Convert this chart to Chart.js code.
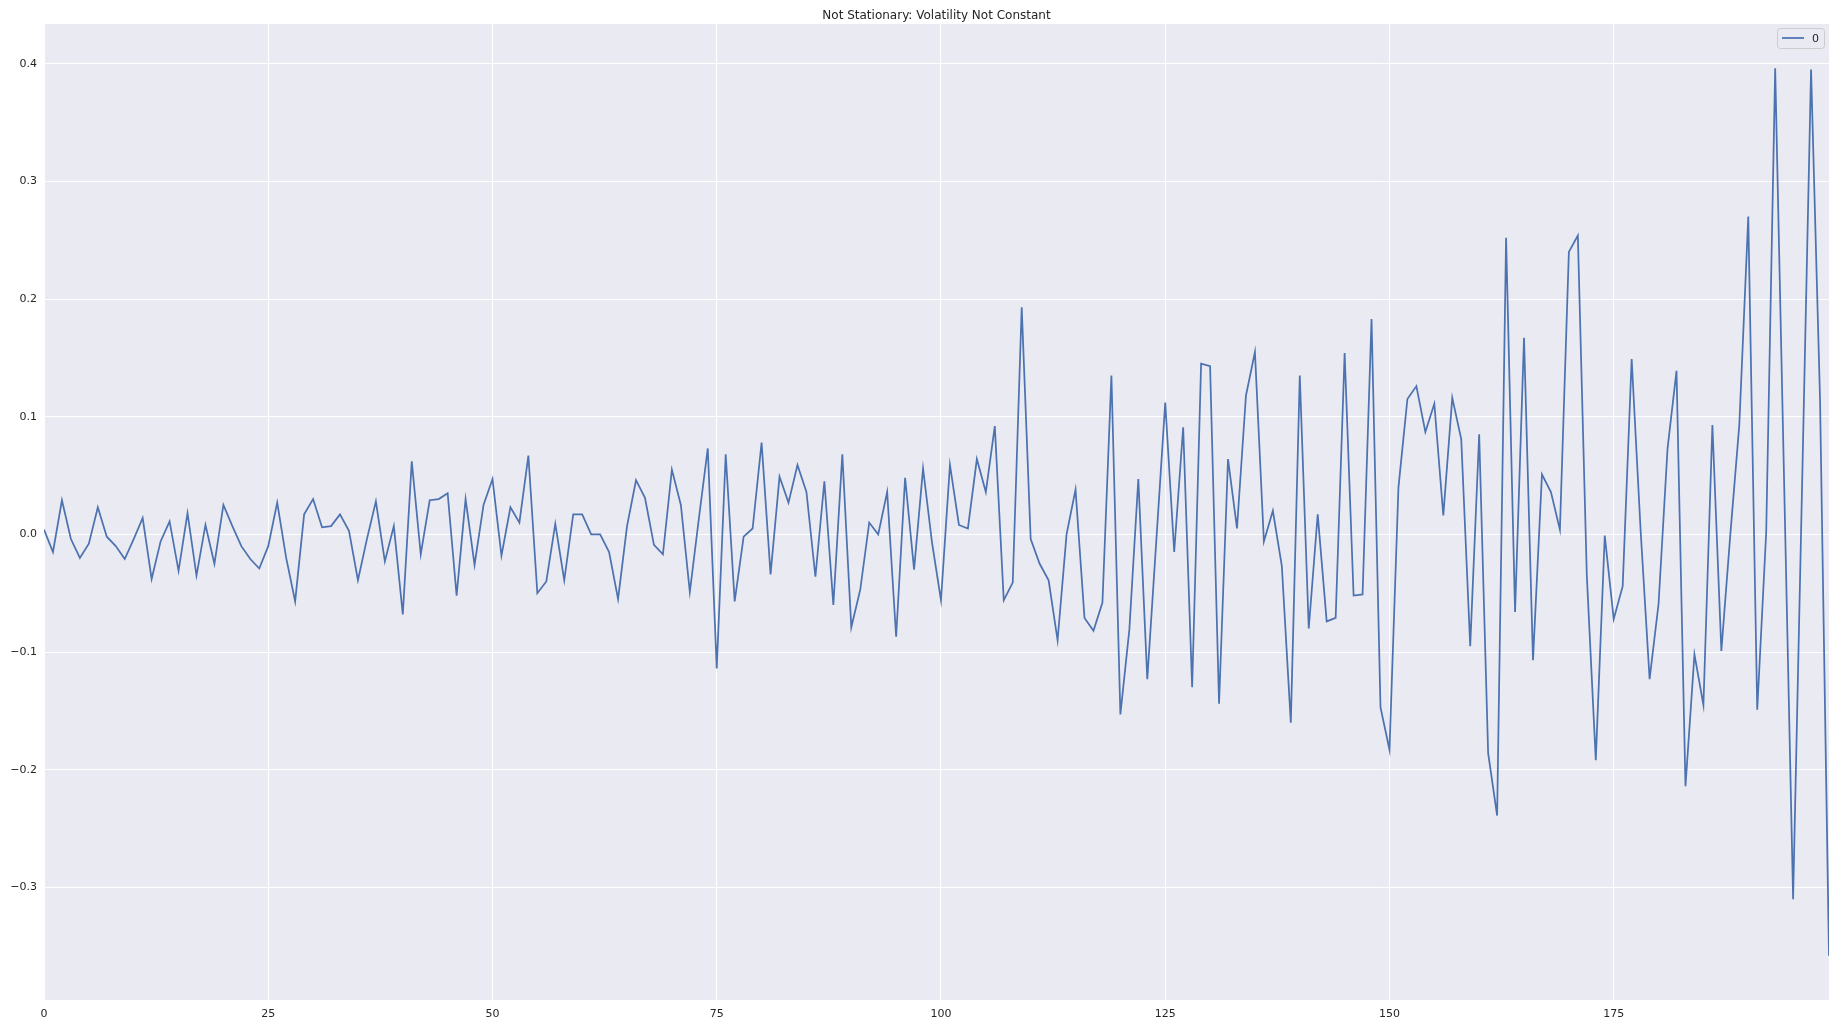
<!DOCTYPE html>
<html>
<head>
<meta charset="utf-8">
<title>Not Stationary: Volatility Not Constant</title>
<script src="https://cdn.jsdelivr.net/npm/chart.js@4/dist/chart.umd.min.js"></script>
<style>
  html, body { margin: 0; padding: 0; background: #ffffff; }
  #chart { display: block; }
</style>
</head>
<body>
<canvas id="chart" width="1842" height="1028"></canvas>
<script>
// series "0", one value per index 0..199
const seriesName = '0';
const values = [
    0.004, -0.015, 0.029, -0.004, -0.020, -0.008, 0.023, -0.002, -0.010, -0.021,
    -0.004, 0.014, -0.038, -0.006, 0.011, -0.031, 0.018, -0.035, 0.008, -0.025,
    0.025, 0.007, -0.010, -0.021, -0.029, -0.010, 0.027, -0.020, -0.057, 0.017,
    0.030, 0.006, 0.007, 0.017, 0.003, -0.039, -0.004, 0.028, -0.023, 0.007,
    -0.068, 0.062, -0.017, 0.029, 0.030, 0.035, -0.052, 0.030, -0.026, 0.025,
    0.047, -0.018, 0.023, 0.010, 0.067, -0.050, -0.040, 0.009, -0.039, 0.017,
    0.017, 0.000, 0.000, -0.015, -0.055, 0.007, 0.046, 0.031, -0.009, -0.017,
    0.055, 0.025, -0.049, 0.013, 0.073, -0.114, 0.068, -0.057, -0.002, 0.005,
    0.078, -0.034, 0.049, 0.027, 0.059, 0.036, -0.036, 0.045, -0.060, 0.068,
    -0.079, -0.047, 0.010, 0.000, 0.036, -0.087, 0.048, -0.030, 0.056, -0.007,
    -0.056, 0.059, 0.008, 0.005, 0.064, 0.036, 0.092, -0.056, -0.041, 0.193,
    -0.004, -0.025, -0.039, -0.090, 0.000, 0.038, -0.071, -0.082, -0.058, 0.135,
    -0.153, -0.081, 0.047, -0.123, -0.006, 0.112, -0.015, 0.091, -0.130, 0.145,
    0.143, -0.144, 0.064, 0.005, 0.118, 0.155, -0.006, 0.020, -0.027, -0.160,
    0.135, -0.080, 0.017, -0.074, -0.071, 0.154, -0.052, -0.051, 0.183, -0.147,
    -0.183, 0.040, 0.115, 0.126, 0.087, 0.111, 0.016, 0.116, 0.081, -0.095,
    0.085, -0.186, -0.239, 0.252, -0.066, 0.167, -0.107, 0.051, 0.036, 0.004,
    0.240, 0.254, -0.035, -0.192, -0.001, -0.072, -0.044, 0.149, 0.003, -0.123,
    -0.059, 0.073, 0.139, -0.214, -0.102, -0.145, 0.093, -0.099, 0.000, 0.093,
    0.270, -0.149, 0.002, 0.396, 0.043, -0.310, 0.042, 0.395, 0.115, -0.358
];
const xTicks = [0, 25, 50, 75, 100, 125, 150, 175];
const yTicks = [-0.3, -0.2, -0.1, 0.0, 0.1, 0.2, 0.3, 0.4];

const lineColor = '#4c72b0';
const textColor = '#262626';
const fontFamily = '"DejaVu Sans", sans-serif';

// matplotlib style limits: x tight, y with 5% margin
const yLo = Math.min(...values);
const yHi = Math.max(...values);
const yPad = (yHi - yLo) * 0.05;

const points = values.map((v, i) => ({ x: i, y: v }));

function minusLabel(v) {
    if (Math.abs(v) < 1e-9) return '0.0';
    return v.toFixed(1).replace('-', '\u2212');
}

// grey plot background (seaborn darkgrid)
const plotBackground = {
    id: 'plotBackground',
    beforeDraw(chart) {
        const a = chart.chartArea;
        const c = chart.ctx;
        c.save();
        c.fillStyle = '#eaeaf2';
        c.fillRect(a.left, a.top, a.right - a.left, a.bottom - a.top);
        c.restore();
    }
};

// legend box in the upper right corner, drawn like matplotlib's
const boxLegend = {
    id: 'boxLegend',
    afterDraw(chart) {
        const a = chart.chartArea;
        const c = chart.ctx;
        const ds = chart.data.datasets[0];
        const w = 47, h = 20;
        const x = a.right - 5 - w, y = a.top + 4;
        c.save();
        c.beginPath();
        c.roundRect(x + 0.5, y + 0.5, w, h, 3);
        c.fillStyle = 'rgba(234,234,242,0.8)';
        c.fill();
        c.strokeStyle = '#cccccc';
        c.lineWidth = 1;
        c.stroke();
        c.beginPath();
        c.moveTo(x + 5, y + h / 2);
        c.lineTo(x + 27, y + h / 2);
        c.strokeStyle = ds.borderColor;
        c.lineWidth = ds.borderWidth;
        c.stroke();
        c.fillStyle = textColor;
        c.font = '11px ' + fontFamily;
        c.textBaseline = 'middle';
        c.textAlign = 'left';
        c.fillText(ds.label, x + 35, y + h / 2 + 1);
        c.restore();
    }
};

new Chart(document.getElementById('chart').getContext('2d'), {
    type: 'line',
    data: {
        datasets: [{
            label: seriesName,
            data: points,
            borderColor: lineColor,
            backgroundColor: lineColor,
            borderWidth: 1.75,
            pointRadius: 0,
            tension: 0,
            fill: false
        }]
    },
    options: {
        responsive: false,
        animation: false,
        devicePixelRatio: 1,
        layout: { padding: { left: 0, right: 13, top: 0, bottom: 0 } },
        plugins: {
            legend: { display: false },
            tooltip: { enabled: false },
            title: {
                display: true,
                fullSize: false, // centre over the plot area like matplotlib
                text: 'Not Stationary: Volatility Not Constant',
                color: textColor,
                font: { family: fontFamily, size: 12, weight: 'normal', lineHeight: 1.2 },
                padding: { top: 8.5, bottom: 1.1 }
            }
        },
        scales: {
            x: {
                type: 'linear',
                min: 0,
                max: values.length - 1,
                afterFit(s) { s.height = 28; },
                afterBuildTicks(s) { s.ticks = xTicks.map(v => ({ value: v })); },
                grid: { color: '#ffffff', lineWidth: 1, drawTicks: false },
                border: { display: false },
                ticks: {
                    color: textColor,
                    font: { family: fontFamily, size: 11 },
                    padding: 8,
                    maxRotation: 0,
                    autoSkip: false,
                    callback: v => String(v)
                }
            },
            y: {
                type: 'linear',
                min: yLo - yPad,
                max: yHi + yPad,
                afterFit(s) { s.width = 44; },
                afterBuildTicks(s) { s.ticks = yTicks.map(v => ({ value: v })); },
                grid: { color: '#ffffff', lineWidth: 1, drawTicks: false },
                border: { display: false },
                ticks: {
                    color: textColor,
                    font: { family: fontFamily, size: 11 },
                    padding: 7,
                    autoSkip: false,
                    callback: v => minusLabel(v)
                }
            }
        }
    },
    plugins: [plotBackground, boxLegend]
});
</script>
</body>
</html>
